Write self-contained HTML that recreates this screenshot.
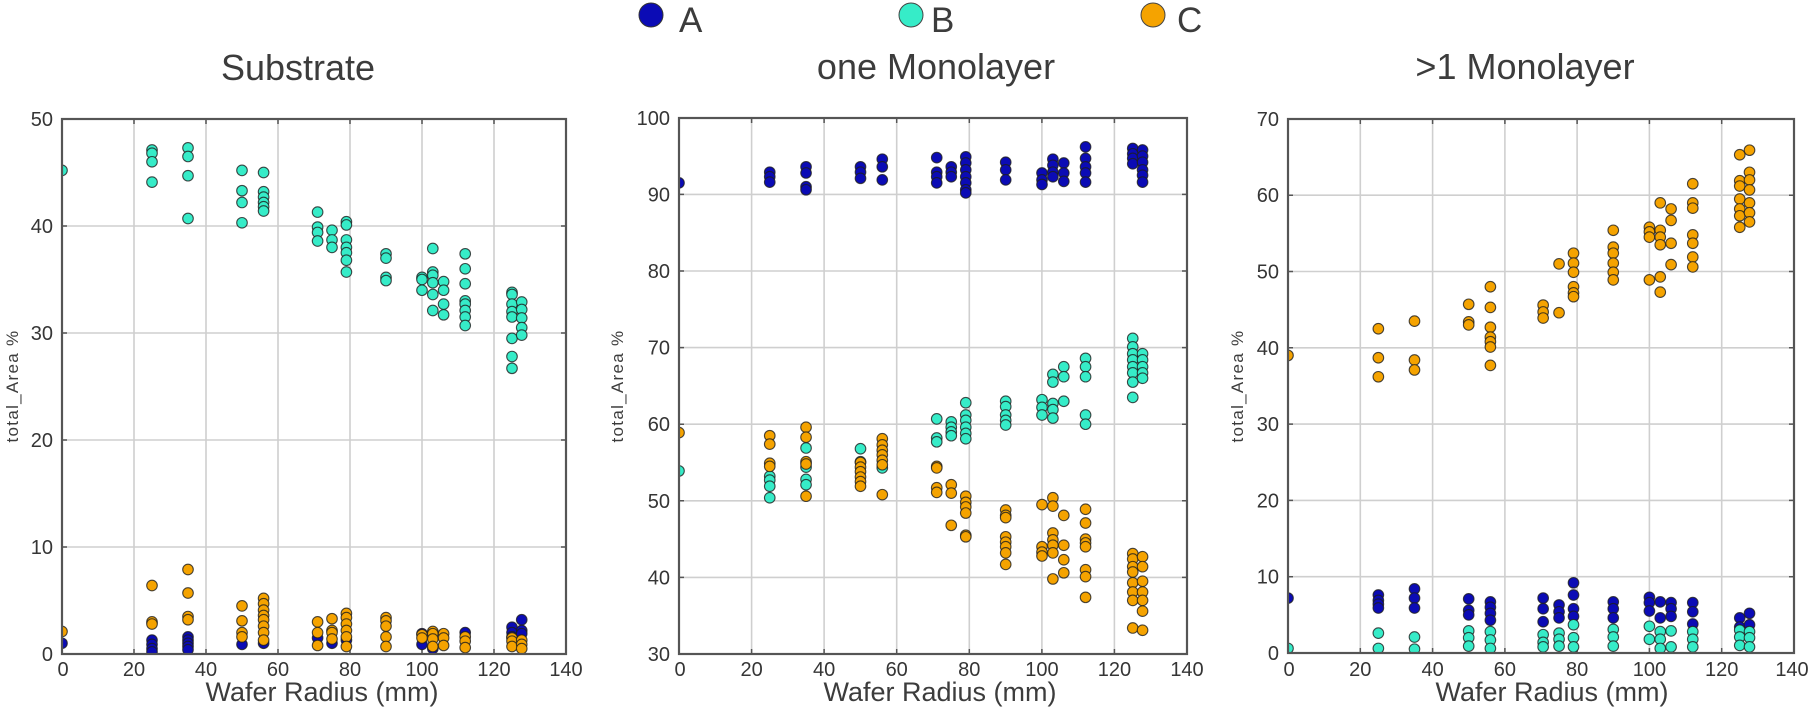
<!DOCTYPE html>
<html><head><meta charset="utf-8"><style>
html,body{margin:0;padding:0;background:#fff;}
svg{display:block;font-family:"Liberation Sans",sans-serif;}
.grid{stroke:#cfcfcf;stroke-width:1.6;fill:none}
.frame{stroke:#555;stroke-width:2.2;fill:none}
.tick{stroke:#555;stroke-width:1.5;fill:none}
.tl{font-size:20px;fill:#353535}
.ttl{font-size:36px;fill:#3c3c3c}
.xl{font-size:27px;fill:#3c3c3c}
.yl{font-size:17px;fill:#3c3c3c;letter-spacing:1.3px}
.lg{font-size:35px;fill:#3c3c3c}
ellipse{stroke:#1e1e1e;stroke-width:1.1;stroke-opacity:.8;vector-effect:non-scaling-stroke}
.A ellipse{fill:#0b0bb5}
.B ellipse{fill:#36ecc8}
.C ellipse{fill:#f5a300}
.p1 ellipse{rx:1.472px;ry:.495px}
.p2 ellipse{rx:1.46px;ry:.692px}
.p3 ellipse{rx:1.467px;ry:.695px}
</style></head><body>
<svg width="1814" height="711" viewBox="0 0 1814 711" xmlns="http://www.w3.org/2000/svg">
<defs>
<clipPath id="c1"><rect x="62" y="119" width="504" height="535"/></clipPath>
<clipPath id="c2"><rect x="679" y="118" width="508" height="536"/></clipPath>
<clipPath id="c3"><rect x="1288" y="119" width="506" height="534"/></clipPath>
</defs>

<!-- Legend -->
<circle cx="651" cy="15" r="12" fill="#0b0bb5" stroke="#333" stroke-width="1"/>
<text class="lg" x="679" y="32">A</text>
<circle cx="911" cy="15" r="12" fill="#36ecc8" stroke="#444" stroke-width="1"/>
<text class="lg" x="931" y="32">B</text>
<circle cx="1153" cy="15" r="12" fill="#f5a300" stroke="#444" stroke-width="1"/>
<text class="lg" x="1177" y="32">C</text>

<!-- Titles -->
<text class="ttl" x="298" y="80" text-anchor="middle">Substrate</text>
<text class="ttl" x="936" y="79" text-anchor="middle">one Monolayer</text>
<text class="ttl" x="1525" y="79" text-anchor="middle">&gt;1 Monolayer</text>

<!-- ================= PANEL 1 ================= -->
<path class="grid" d="M134 119V654M206 119V654M278 119V654M350 119V654M422 119V654M494 119V654M62 547H566M62 440H566M62 333H566M62 226H566"/>
<path class="tick" d="M134 654v-5M206 654v-5M278 654v-5M350 654v-5M422 654v-5M494 654v-5M134 119v5M206 119v5M278 119v5M350 119v5M422 119v5M494 119v5M62 547h5M62 440h5M62 333h5M62 226h5M566 547h-5M566 440h-5M566 333h-5M566 226h-5"/>
<g clip-path="url(#c1)">
<g class="p1" transform="translate(62,654) scale(3.6,-10.7)">
<g class="A">
<ellipse cx="0" cy="1.0"/>
<ellipse cx="25" cy="1.3"/><ellipse cx="25" cy="0.9"/><ellipse cx="25" cy="0.5"/><ellipse cx="25" cy="0.2"/>
<ellipse cx="35" cy="1.6"/><ellipse cx="35" cy="1.3"/><ellipse cx="35" cy="1.0"/><ellipse cx="35" cy="0.7"/><ellipse cx="35" cy="0.4"/>
<ellipse cx="50" cy="0.9"/><ellipse cx="56" cy="1.0"/><ellipse cx="71" cy="1.5"/><ellipse cx="75" cy="1.0"/><ellipse cx="79" cy="1.3"/>
<ellipse cx="100" cy="1.9"/><ellipse cx="100" cy="0.9"/><ellipse cx="103" cy="0.5"/><ellipse cx="112" cy="2.0"/>
<ellipse cx="125" cy="2.5"/><ellipse cx="125" cy="2.0"/><ellipse cx="125" cy="1.6"/>
<ellipse cx="127.7" cy="3.2"/><ellipse cx="127.7" cy="2.2"/><ellipse cx="127.7" cy="1.9"/>
</g>
<g class="B">
<ellipse cx="0" cy="45.2"/>
<ellipse cx="25" cy="47.1"/><ellipse cx="25" cy="46.8"/><ellipse cx="25" cy="46.0"/><ellipse cx="25" cy="44.1"/>
<ellipse cx="35" cy="47.3"/><ellipse cx="35" cy="46.5"/><ellipse cx="35" cy="44.7"/><ellipse cx="35" cy="40.7"/>
<ellipse cx="50" cy="45.2"/><ellipse cx="50" cy="43.3"/><ellipse cx="50" cy="42.2"/><ellipse cx="50" cy="40.3"/>
<ellipse cx="56" cy="45.0"/><ellipse cx="56" cy="43.2"/><ellipse cx="56" cy="42.7"/><ellipse cx="56" cy="42.2"/><ellipse cx="56" cy="41.8"/><ellipse cx="56" cy="41.4"/>
<ellipse cx="71" cy="41.3"/><ellipse cx="71" cy="39.9"/><ellipse cx="71" cy="39.4"/><ellipse cx="71" cy="38.6"/>
<ellipse cx="75" cy="39.6"/><ellipse cx="75" cy="38.7"/><ellipse cx="75" cy="38.0"/>
<ellipse cx="79" cy="40.4"/><ellipse cx="79" cy="40.1"/><ellipse cx="79" cy="38.7"/><ellipse cx="79" cy="38.0"/><ellipse cx="79" cy="37.5"/><ellipse cx="79" cy="36.8"/><ellipse cx="79" cy="35.7"/>
<ellipse cx="90" cy="37.4"/><ellipse cx="90" cy="37.0"/><ellipse cx="90" cy="35.2"/><ellipse cx="90" cy="34.9"/>
<ellipse cx="100" cy="35.2"/><ellipse cx="100" cy="35.0"/><ellipse cx="100" cy="34.0"/>
<ellipse cx="103" cy="37.9"/><ellipse cx="103" cy="35.7"/><ellipse cx="103" cy="35.4"/><ellipse cx="103" cy="34.7"/><ellipse cx="103" cy="33.6"/><ellipse cx="103" cy="32.1"/>
<ellipse cx="106" cy="34.8"/><ellipse cx="106" cy="34.0"/><ellipse cx="106" cy="32.7"/><ellipse cx="106" cy="31.7"/>
<ellipse cx="112" cy="37.4"/><ellipse cx="112" cy="36.0"/><ellipse cx="112" cy="34.6"/><ellipse cx="112" cy="33.0"/><ellipse cx="112" cy="32.7"/><ellipse cx="112" cy="32.1"/><ellipse cx="112" cy="31.5"/><ellipse cx="112" cy="30.7"/>
<ellipse cx="125" cy="33.8"/><ellipse cx="125" cy="33.6"/><ellipse cx="125" cy="32.7"/><ellipse cx="125" cy="32.0"/><ellipse cx="125" cy="31.5"/><ellipse cx="125" cy="29.5"/><ellipse cx="125" cy="27.8"/><ellipse cx="125" cy="26.7"/>
<ellipse cx="127.7" cy="32.9"/><ellipse cx="127.7" cy="32.2"/><ellipse cx="127.7" cy="31.4"/><ellipse cx="127.7" cy="30.5"/><ellipse cx="127.7" cy="29.8"/>
</g>
<g class="C">
<ellipse cx="0" cy="2.1"/>
<ellipse cx="25" cy="6.4"/><ellipse cx="25" cy="3.0"/><ellipse cx="25" cy="2.8"/>
<ellipse cx="35" cy="7.9"/><ellipse cx="35" cy="5.7"/><ellipse cx="35" cy="3.5"/><ellipse cx="35" cy="3.2"/>
<ellipse cx="50" cy="4.5"/><ellipse cx="50" cy="3.1"/><ellipse cx="50" cy="2.0"/><ellipse cx="50" cy="1.6"/>
<ellipse cx="56" cy="5.2"/><ellipse cx="56" cy="4.7"/><ellipse cx="56" cy="4.1"/><ellipse cx="56" cy="3.6"/><ellipse cx="56" cy="3.2"/><ellipse cx="56" cy="2.6"/><ellipse cx="56" cy="2.0"/><ellipse cx="56" cy="1.3"/>
<ellipse cx="71" cy="3.0"/><ellipse cx="71" cy="2.0"/><ellipse cx="71" cy="0.8"/>
<ellipse cx="75" cy="3.3"/><ellipse cx="75" cy="2.2"/><ellipse cx="75" cy="2.0"/><ellipse cx="75" cy="1.4"/>
<ellipse cx="79" cy="3.8"/><ellipse cx="79" cy="3.4"/><ellipse cx="79" cy="2.8"/><ellipse cx="79" cy="2.2"/><ellipse cx="79" cy="1.6"/><ellipse cx="79" cy="0.7"/>
<ellipse cx="90" cy="3.4"/><ellipse cx="90" cy="3.1"/><ellipse cx="90" cy="2.6"/><ellipse cx="90" cy="1.6"/><ellipse cx="90" cy="0.7"/>
<ellipse cx="100" cy="1.8"/><ellipse cx="100" cy="1.5"/>
<ellipse cx="103" cy="2.1"/><ellipse cx="103" cy="1.9"/><ellipse cx="103" cy="1.4"/><ellipse cx="103" cy="0.7"/>
<ellipse cx="106" cy="1.9"/><ellipse cx="106" cy="1.5"/><ellipse cx="106" cy="0.8"/>
<ellipse cx="112" cy="1.6"/><ellipse cx="112" cy="1.2"/><ellipse cx="112" cy="0.6"/>
<ellipse cx="125" cy="1.5"/><ellipse cx="125" cy="1.2"/><ellipse cx="125" cy="0.7"/>
<ellipse cx="127.7" cy="1.3"/><ellipse cx="127.7" cy="0.9"/><ellipse cx="127.7" cy="0.5"/>
</g>
</g>
</g>
<rect class="frame" x="62" y="119" width="504" height="535"/>
<g class="tl" text-anchor="end">
<text x="53" y="661">0</text><text x="53" y="554">10</text><text x="53" y="447">20</text><text x="53" y="340">30</text><text x="53" y="233">40</text><text x="53" y="126">50</text>
</g>
<g class="tl" text-anchor="middle">
<text x="63" y="676">0</text><text x="134" y="676">20</text><text x="206" y="676">40</text><text x="278" y="676">60</text><text x="350" y="676">80</text><text x="422" y="676">100</text><text x="494" y="676">120</text><text x="566" y="676">140</text>
</g>
<text class="xl" x="322" y="701" text-anchor="middle">Wafer Radius (mm)</text>
<text class="yl" transform="translate(18,386) rotate(-90)" text-anchor="middle">total_Area %</text>

<!-- ================= PANEL 2 ================= -->
<path class="grid" d="M751.6 118V654M824.1 118V654M896.7 118V654M969.3 118V654M1041.9 118V654M1114.4 118V654M679 577.4H1187M679 500.8H1187M679 424.2H1187M679 347.6H1187M679 271H1187M679 194.4H1187"/>
<path class="tick" d="M751.6 654v-5M824.1 654v-5M896.7 654v-5M969.3 654v-5M1041.9 654v-5M1114.4 654v-5M751.6 118v5M824.1 118v5M896.7 118v5M969.3 118v5M1041.9 118v5M1114.4 118v5M679 577.4h5M679 500.8h5M679 424.2h5M679 347.6h5M679 271h5M679 194.4h5M1187 577.4h-5M1187 500.8h-5M1187 424.2h-5M1187 347.6h-5M1187 271h-5M1187 194.4h-5"/>
<g clip-path="url(#c2)">
<g class="p2" transform="translate(679,883.8) scale(3.63,-7.66)">
<g class="A">
<ellipse cx="0" cy="91.5"/>
<ellipse cx="25" cy="92.9"/><ellipse cx="25" cy="92.3"/><ellipse cx="25" cy="91.6"/>
<ellipse cx="35" cy="93.6"/><ellipse cx="35" cy="92.8"/><ellipse cx="35" cy="91.0"/><ellipse cx="35" cy="90.6"/>
<ellipse cx="50" cy="93.6"/><ellipse cx="50" cy="92.9"/><ellipse cx="50" cy="92.1"/>
<ellipse cx="56" cy="94.6"/><ellipse cx="56" cy="93.6"/><ellipse cx="56" cy="91.9"/>
<ellipse cx="71" cy="94.8"/><ellipse cx="71" cy="92.9"/><ellipse cx="71" cy="92.3"/><ellipse cx="71" cy="91.5"/>
<ellipse cx="75" cy="93.6"/><ellipse cx="75" cy="92.9"/><ellipse cx="75" cy="92.3"/>
<ellipse cx="79" cy="94.9"/><ellipse cx="79" cy="94.1"/><ellipse cx="79" cy="93.2"/><ellipse cx="79" cy="92.3"/><ellipse cx="79" cy="91.5"/><ellipse cx="79" cy="90.6"/><ellipse cx="79" cy="90.2"/>
<ellipse cx="90" cy="94.2"/><ellipse cx="90" cy="93.2"/><ellipse cx="90" cy="91.9"/>
<ellipse cx="100" cy="92.8"/><ellipse cx="100" cy="91.9"/><ellipse cx="100" cy="91.3"/>
<ellipse cx="103" cy="94.6"/><ellipse cx="103" cy="93.8"/><ellipse cx="103" cy="92.9"/><ellipse cx="103" cy="92.3"/>
<ellipse cx="106" cy="94.1"/><ellipse cx="106" cy="92.8"/><ellipse cx="106" cy="91.7"/>
<ellipse cx="112" cy="96.2"/><ellipse cx="112" cy="94.7"/><ellipse cx="112" cy="93.6"/><ellipse cx="112" cy="92.8"/><ellipse cx="112" cy="91.6"/>
<ellipse cx="125" cy="96.0"/><ellipse cx="125" cy="95.3"/><ellipse cx="125" cy="94.7"/><ellipse cx="125" cy="94.0"/>
<ellipse cx="127.7" cy="95.8"/><ellipse cx="127.7" cy="95.0"/><ellipse cx="127.7" cy="94.2"/><ellipse cx="127.7" cy="93.2"/><ellipse cx="127.7" cy="92.5"/><ellipse cx="127.7" cy="91.6"/>
</g>
<g class="B">
<ellipse cx="0" cy="53.9"/>
<ellipse cx="25" cy="53.2"/><ellipse cx="25" cy="52.7"/><ellipse cx="25" cy="51.9"/><ellipse cx="25" cy="50.4"/>
<ellipse cx="35" cy="56.9"/><ellipse cx="35" cy="54.4"/><ellipse cx="35" cy="52.8"/><ellipse cx="35" cy="52.1"/>
<ellipse cx="50" cy="56.8"/><ellipse cx="50" cy="55.1"/>
<ellipse cx="56" cy="54.3"/>
<ellipse cx="71" cy="60.7"/><ellipse cx="71" cy="58.2"/><ellipse cx="71" cy="57.7"/>
<ellipse cx="75" cy="60.3"/><ellipse cx="75" cy="59.6"/><ellipse cx="75" cy="59.0"/><ellipse cx="75" cy="58.5"/>
<ellipse cx="79" cy="62.8"/><ellipse cx="79" cy="61.2"/><ellipse cx="79" cy="60.5"/><ellipse cx="79" cy="59.6"/><ellipse cx="79" cy="58.8"/><ellipse cx="79" cy="58.1"/>
<ellipse cx="90" cy="63.0"/><ellipse cx="90" cy="62.3"/><ellipse cx="90" cy="61.2"/><ellipse cx="90" cy="60.5"/><ellipse cx="90" cy="59.9"/>
<ellipse cx="100" cy="63.2"/><ellipse cx="100" cy="62.2"/><ellipse cx="100" cy="61.2"/>
<ellipse cx="103" cy="66.5"/><ellipse cx="103" cy="65.5"/><ellipse cx="103" cy="62.7"/><ellipse cx="103" cy="61.9"/><ellipse cx="103" cy="60.8"/>
<ellipse cx="106" cy="67.5"/><ellipse cx="106" cy="66.2"/><ellipse cx="106" cy="63.0"/>
<ellipse cx="112" cy="68.6"/><ellipse cx="112" cy="67.5"/><ellipse cx="112" cy="66.2"/><ellipse cx="112" cy="61.2"/><ellipse cx="112" cy="60.0"/>
<ellipse cx="125" cy="71.2"/><ellipse cx="125" cy="70.1"/><ellipse cx="125" cy="69.2"/><ellipse cx="125" cy="68.4"/><ellipse cx="125" cy="67.5"/><ellipse cx="125" cy="66.7"/><ellipse cx="125" cy="65.5"/><ellipse cx="125" cy="63.5"/>
<ellipse cx="127.7" cy="69.2"/><ellipse cx="127.7" cy="68.4"/><ellipse cx="127.7" cy="67.5"/><ellipse cx="127.7" cy="66.7"/><ellipse cx="127.7" cy="66.0"/>
</g>
<g class="C">
<ellipse cx="0" cy="58.9"/>
<ellipse cx="25" cy="58.5"/><ellipse cx="25" cy="57.4"/><ellipse cx="25" cy="54.9"/><ellipse cx="25" cy="54.5"/>
<ellipse cx="35" cy="59.6"/><ellipse cx="35" cy="58.3"/><ellipse cx="35" cy="55.1"/><ellipse cx="35" cy="54.8"/><ellipse cx="35" cy="50.6"/>
<ellipse cx="50" cy="55.0"/><ellipse cx="50" cy="54.4"/><ellipse cx="50" cy="53.8"/><ellipse cx="50" cy="53.1"/><ellipse cx="50" cy="52.5"/><ellipse cx="50" cy="51.9"/>
<ellipse cx="56" cy="58.1"/><ellipse cx="56" cy="57.3"/><ellipse cx="56" cy="56.6"/><ellipse cx="56" cy="56.0"/><ellipse cx="56" cy="55.3"/><ellipse cx="56" cy="54.7"/><ellipse cx="56" cy="50.8"/>
<ellipse cx="71" cy="54.5"/><ellipse cx="71" cy="54.3"/><ellipse cx="71" cy="51.7"/><ellipse cx="71" cy="51.1"/>
<ellipse cx="75" cy="52.1"/><ellipse cx="75" cy="51.0"/><ellipse cx="75" cy="46.8"/>
<ellipse cx="79" cy="50.6"/><ellipse cx="79" cy="49.8"/><ellipse cx="79" cy="49.2"/><ellipse cx="79" cy="48.4"/><ellipse cx="79" cy="45.5"/><ellipse cx="79" cy="45.3"/>
<ellipse cx="90" cy="48.8"/><ellipse cx="90" cy="48.1"/><ellipse cx="90" cy="47.8"/><ellipse cx="90" cy="45.3"/><ellipse cx="90" cy="44.6"/><ellipse cx="90" cy="44.0"/><ellipse cx="90" cy="43.2"/><ellipse cx="90" cy="41.7"/>
<ellipse cx="100" cy="49.5"/><ellipse cx="100" cy="44.0"/><ellipse cx="100" cy="43.3"/><ellipse cx="100" cy="42.8"/>
<ellipse cx="103" cy="50.4"/><ellipse cx="103" cy="49.3"/><ellipse cx="103" cy="45.8"/><ellipse cx="103" cy="44.9"/><ellipse cx="103" cy="44.2"/><ellipse cx="103" cy="43.2"/><ellipse cx="103" cy="39.8"/>
<ellipse cx="106" cy="48.1"/><ellipse cx="106" cy="44.2"/><ellipse cx="106" cy="42.3"/><ellipse cx="106" cy="40.6"/>
<ellipse cx="112" cy="48.9"/><ellipse cx="112" cy="47.1"/><ellipse cx="112" cy="45.0"/><ellipse cx="112" cy="44.5"/><ellipse cx="112" cy="44.0"/><ellipse cx="112" cy="41.0"/><ellipse cx="112" cy="40.1"/><ellipse cx="112" cy="37.4"/>
<ellipse cx="125" cy="43.1"/><ellipse cx="125" cy="42.4"/><ellipse cx="125" cy="41.4"/><ellipse cx="125" cy="40.7"/><ellipse cx="125" cy="39.3"/><ellipse cx="125" cy="38.1"/><ellipse cx="125" cy="37.0"/><ellipse cx="125" cy="33.4"/>
<ellipse cx="127.7" cy="42.7"/><ellipse cx="127.7" cy="41.4"/><ellipse cx="127.7" cy="39.5"/><ellipse cx="127.7" cy="38.1"/><ellipse cx="127.7" cy="37.0"/><ellipse cx="127.7" cy="35.6"/><ellipse cx="127.7" cy="33.1"/>
</g>
</g>
</g>
<rect class="frame" x="679" y="118" width="508" height="536"/>
<g class="tl" text-anchor="end">
<text x="670" y="661">30</text><text x="670" y="584.4">40</text><text x="670" y="507.8">50</text><text x="670" y="431.2">60</text><text x="670" y="354.6">70</text><text x="670" y="278">80</text><text x="670" y="201.4">90</text><text x="670" y="125">100</text>
</g>
<g class="tl" text-anchor="middle">
<text x="680" y="676">0</text><text x="751.6" y="676">20</text><text x="824.1" y="676">40</text><text x="896.7" y="676">60</text><text x="969.3" y="676">80</text><text x="1041.9" y="676">100</text><text x="1114.4" y="676">120</text><text x="1187" y="676">140</text>
</g>
<text class="xl" x="940" y="701" text-anchor="middle">Wafer Radius (mm)</text>
<text class="yl" transform="translate(623,386) rotate(-90)" text-anchor="middle">total_Area %</text>

<!-- ================= PANEL 3 ================= -->
<path class="grid" d="M1360.3 119V653M1432.6 119V653M1504.9 119V653M1577.1 119V653M1649.4 119V653M1721.7 119V653M1288 576.7H1794M1288 500.4H1794M1288 424.1H1794M1288 347.8H1794M1288 271.5H1794M1288 195.2H1794"/>
<path class="tick" d="M1360.3 653v-5M1432.6 653v-5M1504.9 653v-5M1577.1 653v-5M1649.4 653v-5M1721.7 653v-5M1360.3 119v5M1432.6 119v5M1504.9 119v5M1577.1 119v5M1649.4 119v5M1721.7 119v5M1288 576.7h5M1288 500.4h5M1288 424.1h5M1288 347.8h5M1288 271.5h5M1288 195.2h5M1794 576.7h-5M1794 500.4h-5M1794 424.1h-5M1794 347.8h-5M1794 271.5h-5M1794 195.2h-5"/>
<g clip-path="url(#c3)">
<g class="p3" transform="translate(1288,653) scale(3.614,-7.63)">
<g class="A">
<ellipse cx="0" cy="7.2"/>
<ellipse cx="25" cy="7.6"/><ellipse cx="25" cy="6.9"/><ellipse cx="25" cy="6.4"/><ellipse cx="25" cy="5.9"/>
<ellipse cx="35" cy="8.4"/><ellipse cx="35" cy="7.2"/><ellipse cx="35" cy="5.9"/>
<ellipse cx="50" cy="7.1"/><ellipse cx="50" cy="5.6"/><ellipse cx="50" cy="5.0"/>
<ellipse cx="56" cy="6.7"/><ellipse cx="56" cy="6.0"/><ellipse cx="56" cy="5.2"/><ellipse cx="56" cy="4.3"/>
<ellipse cx="70.6" cy="7.2"/><ellipse cx="70.6" cy="5.8"/><ellipse cx="70.6" cy="4.1"/>
<ellipse cx="75" cy="6.3"/><ellipse cx="75" cy="5.4"/><ellipse cx="75" cy="4.6"/>
<ellipse cx="79" cy="9.2"/><ellipse cx="79" cy="7.6"/><ellipse cx="79" cy="5.8"/><ellipse cx="79" cy="4.8"/>
<ellipse cx="90" cy="6.7"/><ellipse cx="90" cy="5.8"/><ellipse cx="90" cy="4.6"/>
<ellipse cx="100" cy="7.3"/><ellipse cx="100" cy="6.6"/><ellipse cx="100" cy="5.5"/>
<ellipse cx="103" cy="6.7"/><ellipse cx="103" cy="4.6"/>
<ellipse cx="106" cy="6.6"/><ellipse cx="106" cy="5.8"/><ellipse cx="106" cy="4.8"/>
<ellipse cx="112" cy="6.6"/><ellipse cx="112" cy="5.4"/><ellipse cx="112" cy="3.8"/>
<ellipse cx="125" cy="4.6"/><ellipse cx="125" cy="3.4"/>
<ellipse cx="127.7" cy="5.2"/><ellipse cx="127.7" cy="3.7"/>
</g>
<g class="B">
<ellipse cx="0" cy="0.6"/>
<ellipse cx="25" cy="2.6"/><ellipse cx="25" cy="0.6"/>
<ellipse cx="35" cy="2.1"/><ellipse cx="35" cy="0.5"/>
<ellipse cx="50" cy="2.9"/><ellipse cx="50" cy="2.0"/><ellipse cx="50" cy="0.9"/>
<ellipse cx="56" cy="2.8"/><ellipse cx="56" cy="1.7"/><ellipse cx="56" cy="0.6"/>
<ellipse cx="70.6" cy="2.4"/><ellipse cx="70.6" cy="1.4"/><ellipse cx="70.6" cy="0.8"/>
<ellipse cx="75" cy="2.6"/><ellipse cx="75" cy="1.8"/><ellipse cx="75" cy="0.9"/>
<ellipse cx="79" cy="3.7"/><ellipse cx="79" cy="2.0"/><ellipse cx="79" cy="0.8"/>
<ellipse cx="90" cy="3.1"/><ellipse cx="90" cy="2.1"/><ellipse cx="90" cy="0.9"/>
<ellipse cx="100" cy="3.5"/><ellipse cx="100" cy="1.8"/>
<ellipse cx="103" cy="2.8"/><ellipse cx="103" cy="1.8"/><ellipse cx="103" cy="0.6"/>
<ellipse cx="106" cy="2.9"/><ellipse cx="106" cy="0.8"/>
<ellipse cx="112" cy="2.8"/><ellipse cx="112" cy="1.8"/><ellipse cx="112" cy="0.8"/>
<ellipse cx="125" cy="3.0"/><ellipse cx="125" cy="2.1"/><ellipse cx="125" cy="1.0"/>
<ellipse cx="127.7" cy="2.8"/><ellipse cx="127.7" cy="2.0"/><ellipse cx="127.7" cy="0.8"/>
</g>
<g class="C">
<ellipse cx="0" cy="39.0"/>
<ellipse cx="25" cy="42.5"/><ellipse cx="25" cy="38.7"/><ellipse cx="25" cy="36.2"/>
<ellipse cx="35" cy="43.5"/><ellipse cx="35" cy="38.4"/><ellipse cx="35" cy="37.1"/>
<ellipse cx="50" cy="45.7"/><ellipse cx="50" cy="43.4"/><ellipse cx="50" cy="43.0"/>
<ellipse cx="56" cy="48.0"/><ellipse cx="56" cy="45.3"/><ellipse cx="56" cy="42.7"/><ellipse cx="56" cy="41.4"/><ellipse cx="56" cy="40.8"/><ellipse cx="56" cy="40.1"/><ellipse cx="56" cy="37.7"/>
<ellipse cx="70.6" cy="45.6"/><ellipse cx="70.6" cy="44.7"/><ellipse cx="70.6" cy="43.9"/>
<ellipse cx="75" cy="51.0"/><ellipse cx="75" cy="44.6"/>
<ellipse cx="79" cy="52.4"/><ellipse cx="79" cy="51.1"/><ellipse cx="79" cy="49.9"/><ellipse cx="79" cy="48.0"/><ellipse cx="79" cy="47.2"/><ellipse cx="79" cy="46.7"/>
<ellipse cx="90" cy="55.4"/><ellipse cx="90" cy="53.2"/><ellipse cx="90" cy="52.4"/><ellipse cx="90" cy="51.1"/><ellipse cx="90" cy="49.9"/><ellipse cx="90" cy="48.9"/>
<ellipse cx="100" cy="55.8"/><ellipse cx="100" cy="55.2"/><ellipse cx="100" cy="54.5"/><ellipse cx="100" cy="48.9"/>
<ellipse cx="103" cy="59.0"/><ellipse cx="103" cy="55.4"/><ellipse cx="103" cy="54.5"/><ellipse cx="103" cy="53.5"/><ellipse cx="103" cy="49.3"/><ellipse cx="103" cy="47.3"/>
<ellipse cx="106" cy="58.2"/><ellipse cx="106" cy="56.7"/><ellipse cx="106" cy="53.7"/><ellipse cx="106" cy="50.9"/>
<ellipse cx="112" cy="61.5"/><ellipse cx="112" cy="59.0"/><ellipse cx="112" cy="58.3"/><ellipse cx="112" cy="54.8"/><ellipse cx="112" cy="53.7"/><ellipse cx="112" cy="51.9"/><ellipse cx="112" cy="50.6"/>
<ellipse cx="125" cy="65.3"/><ellipse cx="125" cy="61.9"/><ellipse cx="125" cy="61.2"/><ellipse cx="125" cy="59.5"/><ellipse cx="125" cy="58.2"/><ellipse cx="125" cy="57.3"/><ellipse cx="125" cy="55.8"/>
<ellipse cx="127.7" cy="65.9"/><ellipse cx="127.7" cy="63.0"/><ellipse cx="127.7" cy="62.0"/><ellipse cx="127.7" cy="60.7"/><ellipse cx="127.7" cy="59.0"/><ellipse cx="127.7" cy="57.7"/><ellipse cx="127.7" cy="56.5"/>
</g>
</g>
</g>
<rect class="frame" x="1288" y="119" width="506" height="534"/>
<g class="tl" text-anchor="end">
<text x="1279" y="660">0</text><text x="1279" y="583.7">10</text><text x="1279" y="507.4">20</text><text x="1279" y="431.1">30</text><text x="1279" y="354.8">40</text><text x="1279" y="278.5">50</text><text x="1279" y="202.2">60</text><text x="1279" y="126">70</text>
</g>
<g class="tl" text-anchor="middle">
<text x="1289" y="676">0</text><text x="1360.3" y="676">20</text><text x="1432.6" y="676">40</text><text x="1504.9" y="676">60</text><text x="1577.1" y="676">80</text><text x="1649.4" y="676">100</text><text x="1721.7" y="676">120</text><text x="1792" y="676">140</text>
</g>
<text class="xl" x="1552" y="701" text-anchor="middle">Wafer Radius (mm)</text>
<text class="yl" transform="translate(1243,386) rotate(-90)" text-anchor="middle">total_Area %</text>
</svg>
</body></html>
